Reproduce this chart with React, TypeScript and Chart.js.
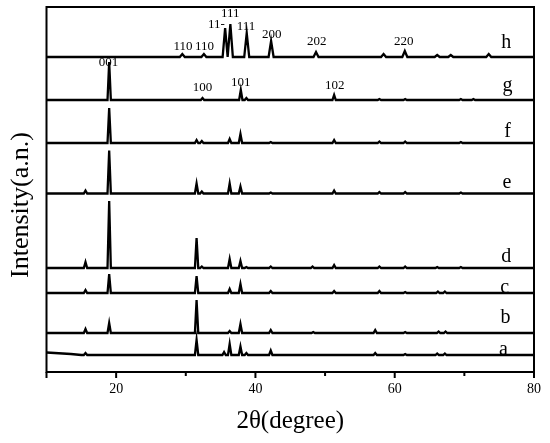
import React, { useEffect, useRef } from "react";
import { Chart, registerables } from "chart.js";

Chart.register(...registerables);

// ---- Data (2θ in degrees, intensities in arbitrary units) ----
const sampleNames = ["a", "b", "c", "d", "e", "f", "g", "h"];
const offsets = [17, 39, 79, 104, 178.5, 229, 272, 315];
const backgroundStart = [2.5, 0, 0, 0, 0, 0, 0, 0];
const backgroundMid = [1, 0, 0, 0, 0, 0, 0, 0];
const peakHalfWidths = [0.24, 0.24, 0.24, 0.24, 0.24, 0.24, 0.24, 0.36];

const posA = [15.6, 31.55, 35.5, 36.3, 37.85, 38.7, 42.2, 57.2, 61.5, 66.1, 67.2];
const hA = [2, 15, 3, 11, 8.5, 2, 4.5, 2, 1, 1.5, 1.5];

const posB = [15.6, 19.0, 31.55, 36.3, 37.85, 42.2, 48.3, 57.2, 61.5, 66.3, 67.3];
const hB = [4, 10, 33, 2, 9, 3, 1, 3, 1, 1.5, 1.5];

const posC = [15.6, 19.0, 31.55, 36.3, 37.85, 42.2, 51.3, 57.8, 61.5, 66.2, 67.2];
const hC = [3, 19, 17, 4, 9, 2, 2, 2, 1, 1.5, 1.5];

const posD = [15.6, 19.0, 31.55, 32.3, 36.3, 37.85, 38.7, 42.2, 48.2, 51.3, 57.8, 61.5, 66.1, 69.5];
const hD = [6, 67, 30, 1.5, 9, 7, 1, 1.5, 1.5, 3, 1.5, 1.5, 1, 1];

const posE = [15.6, 19.0, 31.55, 32.3, 36.3, 37.85, 42.2, 51.3, 57.8, 61.5, 69.5];
const hE = [3, 43, 10, 2, 10, 7, 1, 3, 1.5, 1.5, 1];

const posF = [19.0, 31.55, 32.3, 36.3, 37.85, 42.2, 51.3, 57.8, 61.5, 69.5];
const hF = [35, 3, 2, 4, 9, 1, 3, 1.5, 1.5, 1];

const posG = [19.0, 32.4, 37.9, 38.7, 51.3, 57.8, 61.5, 69.5, 71.3];
const hG = [38, 2, 10, 2, 5, 1, 1, 1, 1];

const posH = [29.5, 32.6, 35.65, 36.4, 38.75, 42.25, 48.7, 58.4, 61.45, 66.1, 68.05, 73.5];
const hH = [3, 3, 29, 33, 24, 16, 5, 3, 6, 2, 2, 3];

const peakPositions = [posA, posB, posC, posD, posE, posF, posG, posH];
const peakHeights = [hA, hB, hC, hD, hE, hF, hG, hH];

// Miller index annotations
const hklTexts = ["110", "110", "11-", "111", "111", "200", "202", "220", "001", "100", "101", "102"];
const hklX = [29.6, 32.7, 34.4, 36.4, 38.65, 42.35, 48.8, 61.3, 18.9, 32.4, 37.9, 51.4];
const hklY = [325, 325, 347, 358, 345, 337, 330, 330, 309, 284, 289, 286];

// Sample letters
const letterX = [75.6, 75.9, 75.8, 76.0, 76.1, 76.2, 76.2, 76.0];
const letterY = [22, 54, 84, 115, 189, 240, 286, 329];

const xMin = 10;
const xMax = 80;
const majorTicks = [10, 20, 40, 60, 80];
const minorTicks = [30, 50, 70];
const labeledTicks = [20, 40, 60, 80];

const FONT = '"Liberation Serif", "DejaVu Serif", serif';

function buildSeries(i: number) {
  const off = offsets[i];
  const w = peakHalfWidths[i];
  const pts: { x: number; y: number }[] = [{ x: xMin, y: off + backgroundStart[i] }];
  if (backgroundStart[i] > 0) {
    pts.push({ x: 13.5, y: off + backgroundMid[i] });
    pts.push({ x: 15.0, y: off });
  }
  const pos = peakPositions[i];
  const hs = peakHeights[i];
  for (let k = 0; k < pos.length; k++) {
    pts.push({ x: pos[k] - w, y: off });
    pts.push({ x: pos[k], y: off + hs[k] });
    pts.push({ x: pos[k] + w, y: off });
  }
  pts.push({ x: xMax, y: off });
  return pts;
}

const overlay = {
  id: "overlay",
  afterDraw(chart: any) {
    const { ctx, chartArea, scales } = chart;
    const { left, right, top, bottom } = chartArea;
    const x = scales.x;
    const y = scales.y;
    ctx.save();
    ctx.strokeStyle = "#000";
    ctx.fillStyle = "#000";
    ctx.lineWidth = 2;
    ctx.strokeRect(left, top, right - left, bottom - top);
    const tick = (v: number, len: number) => {
      const px = x.getPixelForValue(v);
      ctx.beginPath();
      ctx.moveTo(px, bottom);
      ctx.lineTo(px, bottom + len);
      ctx.stroke();
    };
    majorTicks.forEach((v) => tick(v, 6));
    minorTicks.forEach((v) => tick(v, 4));

    ctx.textAlign = "center";
    ctx.textBaseline = "middle";
    ctx.font = `13px ${FONT}`;
    hklTexts.forEach((t, k) => {
      ctx.fillText(t, x.getPixelForValue(hklX[k]), y.getPixelForValue(hklY[k]));
    });
    ctx.font = `20px ${FONT}`;
    sampleNames.forEach((t, k) => {
      ctx.fillText(t, x.getPixelForValue(letterX[k]), y.getPixelForValue(letterY[k]));
    });
    ctx.translate(21, 205);
    ctx.rotate(-Math.PI / 2);
    ctx.font = `26px ${FONT}`;
    ctx.fillText("Intensity(a.n.)", 0, 0);
    ctx.restore();
  },
};

export default function App() {
  const ref = useRef<HTMLCanvasElement | null>(null);
  useEffect(() => {
    if (!ref.current) return;
    const datasets = sampleNames.map((name, i) => ({
      label: name,
      data: buildSeries(i),
      borderColor: "#000",
      borderWidth: 2.3,
      pointRadius: 0,
      tension: 0,
      fill: false,
    }));
    const chart = new Chart(ref.current, {
      type: "line",
      data: { datasets },
      options: {
        animation: false,
        responsive: false,
        devicePixelRatio: 1,
        layout: { padding: { left: 46.5, right: 12, top: 7, bottom: 0 } },
        plugins: { legend: { display: false }, tooltip: { enabled: false } },
        scales: {
          x: {
            type: "linear",
            min: xMin,
            max: xMax,
            position: "bottom",
            afterFit: (s: any) => {
              s.height = 71;
            },
            afterBuildTicks: (s: any) => {
              s.ticks = [20, 30, 40, 50, 60, 70, 80].map((v) => ({ value: v }));
            },
            ticks: {
              callback: (v: any) => (labeledTicks.includes(Number(v)) ? String(v) : ""),
              font: { family: FONT, size: 14 },
              color: "#000",
              padding: 9,
              maxRotation: 0,
              autoSkip: false,
            },
            grid: { display: false, drawTicks: false, tickLength: 0 },
            border: { display: false },
            title: {
              display: true,
              text: "2θ(degree)",
              font: { family: FONT, size: 25 },
              color: "#000",
              padding: { top: 0, bottom: 7 },
            },
          },
          y: {
            type: "linear",
            display: false,
            min: 0,
            max: 365,
          },
        },
      },
      plugins: [overlay],
    });
    return () => chart.destroy();
  }, []);
  return (
    <div style={{ position: "absolute", left: 0, top: 0, width: 550, height: 443, background: "#fff" }}>
      <canvas ref={ref} width={550} height={443} style={{ display: "block" }} />
    </div>
  );
}
